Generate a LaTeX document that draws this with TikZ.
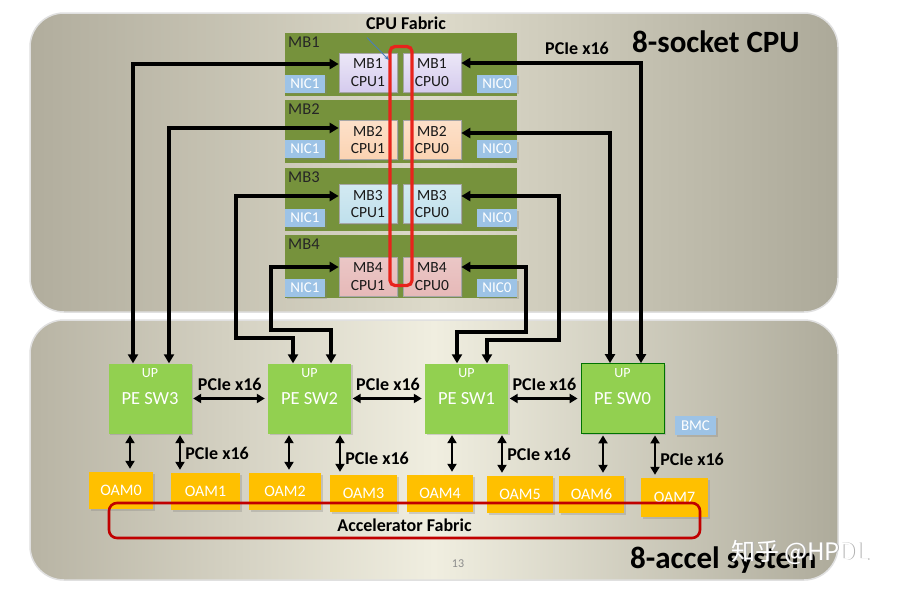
\documentclass[tikz,border=0pt]{standalone}
\usepackage{fontspec}
\setmainfont{Carlito}
\newfontfamily\cjkfont{Noto Sans CJK SC}
\usetikzlibrary{arrows.meta,shadows}
\definecolor{boardgreen}{HTML}{76923C}
\definecolor{nicblue}{HTML}{9DC3E6}
\definecolor{swgreen}{HTML}{92D050}
\definecolor{oamgold}{HTML}{FFC000}
\definecolor{fabred}{HTML}{E8231C}
\definecolor{accred}{HTML}{C00000}
\definecolor{pointblue}{HTML}{4A7EBB}
\definecolor{panelL}{HTML}{B1AD9D}
\definecolor{panelM}{HTML}{DDDACA}
\definecolor{panelR}{HTML}{ACA999}
\definecolor{panelBL}{HTML}{B8B4A4}
\definecolor{panelBM}{HTML}{F0EEE0}
\definecolor{panelBR}{HTML}{AEAB9B}
\definecolor{cpuA}{HTML}{D5CBEE}
\definecolor{cpuB}{HTML}{FBD3B2}
\definecolor{cpuC}{HTML}{BFE0EC}
\definecolor{cpuD}{HTML}{E6B9B8}
\begin{document}
\begin{tikzpicture}[x=1pt,y=-1pt,>={Triangle[length=9pt,width=10pt]},
  panel/.style={draw=black!12,line width=1.5pt,rounded corners=34pt},
  shad/.style={drop shadow={shadow xshift=1.5pt,shadow yshift=-1.5pt,opacity=.3}},
  board/.style={fill=boardgreen,anchor=north west,minimum width=232pt,minimum height=63pt,inner sep=0pt},
  mblab/.style={anchor=north west,inner sep=0pt,text=black!85,font=\fontsize{16.5}{16.5}\selectfont},
  cpu/.style={draw=black!35,line width=.6pt,minimum width=58pt,minimum height=39pt,inner sep=0pt,align=center,text=black!90,font=\fontsize{15.5}{17.5}\selectfont,shad},
  nic/.style={fill=nicblue,text=white,minimum width=40pt,minimum height=18pt,inner sep=0pt,font=\fontsize{15}{15}\selectfont,shad},
  sw/.style={fill=swgreen,text=white,minimum width=83pt,minimum height=70pt,inner sep=0pt,font=\fontsize{18.5}{18.5}\selectfont,shad,
    label={[anchor=north,inner sep=0pt,yshift=-5pt,text=white,font=\fontsize{14}{14}\selectfont]north:UP}},
  oam/.style={fill=oamgold,text=white,minimum height=37pt,inner sep=0pt,font=\fontsize{16}{16}\selectfont,shad},
  wire/.style={<->,line width=3.2pt},
  dbl/.style={<->,line width=2.6pt,>={Triangle[length=8pt,width=9pt]},shorten <=1.5pt,shorten >=3pt},
  lab/.style={inner sep=1pt,font=\bfseries\fontsize{18}{18}\selectfont},
  title/.style={inner sep=0pt,font=\bfseries\fontsize{31}{31}\selectfont}]
  \useasboundingbox[fill=white] (0,0) rectangle (914,592);
  \draw[panel,left color=panelL,right color=panelR,middle color=panelM] (30,13) rectangle (838,312);
  \draw[panel,left color=panelBL,right color=panelBR,middle color=panelBM] (30,320) rectangle (838,580);
  \node[board] (mb1) at (285,33) {}; \node[board] (mb2) at (285,100) {}; \node[board] (mb3) at (285,168) {}; \node[board] (mb4) at (285,235) {};
  \node[mblab] at ([xshift=3pt,yshift=-4pt]mb1.north west) {MB1}; \node[mblab] at ([xshift=3pt,yshift=-4pt]mb2.north west) {MB2}; \node[mblab] at ([xshift=3pt,yshift=-4pt]mb3.north west) {MB3}; \node[mblab] at ([xshift=3pt,yshift=-4pt]mb4.north west) {MB4};
  \node[cpu,top color=cpuA!45,bottom color=cpuA] (mb1c1) at (368,72.5) {MB1\\CPU1}; \node[cpu,top color=cpuA!45,bottom color=cpuA] (mb1c0) at (432,72.5) {MB1\\CPU0};
  \node[cpu,top color=cpuB!70,bottom color=cpuB] (mb2c1) at (368,140) {MB2\\CPU1}; \node[cpu,top color=cpuB!70,bottom color=cpuB] (mb2c0) at (432,140) {MB2\\CPU0};
  \node[cpu,top color=cpuC!70,bottom color=cpuC] (mb3c1) at (368,204) {MB3\\CPU1}; \node[cpu,top color=cpuC!70,bottom color=cpuC] (mb3c0) at (432,204) {MB3\\CPU0};
  \node[cpu,top color=cpuD!80,bottom color=cpuD] (mb4c1) at (368,276.5) {MB4\\CPU1}; \node[cpu,top color=cpuD!80,bottom color=cpuD] (mb4c0) at (432,276.5) {MB4\\CPU0};
  \node[nic] (mb1n1) at (305,83.5) {NIC1}; \node[nic] (mb1n0) at (497,83.5) {NIC0}; \node[nic] (mb2n1) at (305,149) {NIC1}; \node[nic] (mb2n0) at (497,149) {NIC0};
  \node[nic] (mb3n1) at (305,218) {NIC1}; \node[nic] (mb3n0) at (497,218) {NIC0}; \node[nic] (mb4n1) at (305,288) {NIC1}; \node[nic] (mb4n0) at (497,288) {NIC0};
  \node[draw=fabred,line width=3.2pt,rounded corners=5pt,minimum width=22pt,minimum height=239pt,inner sep=0pt] (cpufab) at (401,166) {};
  \node[lab] (cpufablab) at (406,23) {CPU Fabric}; \coordinate (fabtip) at (389,60);
  \draw[pointblue,line width=.9pt,-{Stealth[length=5pt,width=4pt]}] ([xshift=2pt,yshift=-7pt]cpufablab.south west) -- (fabtip);
  \node[sw] (sw3) at (150,398.5) {PE SW3}; \node[sw] (sw2) at (309.5,398.5) {PE SW2}; \node[sw] (sw1) at (466.5,398.5) {PE SW1}; \node[sw,draw=green!45!black,line width=.8pt] (sw0) at (622.5,398.5) {PE SW0};
  \node[nic,minimum width=41pt,minimum height=19pt] (bmc) at (695.5,425.5) {BMC};
  \node[oam,minimum width=64pt] (oam0) at (121,490.5) {OAM0}; \node[oam,minimum width=69pt] (oam1) at (205.5,491.5) {OAM1}; \node[oam,minimum width=72pt] (oam2) at (285,491.5) {OAM2}; \node[oam,minimum width=67pt] (oam3) at (363.5,493.5) {OAM3};
  \node[oam,minimum width=66pt] (oam4) at (440,493.5) {OAM4}; \node[oam,minimum width=66pt] (oam5) at (520,494.5) {OAM5}; \node[oam,minimum width=65pt] (oam6) at (591.5,494.5) {OAM6}; \node[oam,minimum width=67pt,minimum height=39pt] (oam7) at (674.5,497.5) {OAM7};
  \node[draw=accred,line width=2.6pt,rounded corners=8pt,minimum width=591pt,minimum height=35pt,inner sep=0pt] (accfab) at (404.5,520.5) {};
  \node[lab] at ([yshift=-5pt]accfab.center) {Accelerator Fabric};
  \draw[wire] ([xshift=-17pt]sw3.north) |- ([yshift=8.5pt]mb1c1.west); \draw[wire] ([xshift=19pt]sw3.north) |- ([yshift=12pt]mb2c1.west);
  \draw[wire] ([xshift=-16.5pt]sw2.north) |- (236,338) |- ([yshift=8pt]mb3c1.west); \draw[wire] ([xshift=21.5pt]sw2.north) |- (271,330) |- ([yshift=9.5pt]mb4c1.west);
  \draw[wire] ([xshift=18.5pt]sw0.north) |- ([yshift=9.5pt]mb1c0.east); \draw[wire] ([xshift=-12.5pt]sw0.north) |- ([yshift=7pt]mb2c0.east);
  \draw[wire] ([xshift=20.5pt]sw1.north) |- (559,340) |- ([yshift=8pt]mb3c0.east); \draw[wire] ([xshift=-9.5pt]sw1.north) |- (526,332) |- ([yshift=9.5pt]mb4c0.east);
  \node[lab] at (577,48) {PCIe x16};
  \draw[dbl] (sw3.east) -- node[lab,above=6pt] {PCIe x16} (sw2.west); \draw[dbl] (sw2.east) -- node[lab,above=6pt] {PCIe x16} (sw1.west); \draw[dbl] (sw1.east) -- node[lab,above=6pt] {PCIe x16} (sw0.west);
  \draw[dbl] ([xshift=-20pt]sw3.south) -- ([xshift=-20pt]sw3.south |- oam0.north); \draw[dbl] ([xshift=30pt]sw3.south) -- node[lab,right=3pt] {PCIe x16} ([xshift=30pt]sw3.south |- oam1.north);
  \draw[dbl] ([xshift=-20.5pt]sw2.south) -- ([xshift=-20.5pt]sw2.south |- oam2.north); \draw[dbl] ([xshift=30.5pt]sw2.south) -- node[lab,right=3pt,yshift=-4pt] {PCIe x16} ([xshift=30.5pt]sw2.south |- oam3.north);
  \draw[dbl] ([xshift=-14.5pt]sw1.south) -- ([xshift=-14.5pt]sw1.south |- oam4.north); \draw[dbl] ([xshift=35.5pt]sw1.south) -- node[lab,right=3pt] {PCIe x16} ([xshift=35.5pt]sw1.south |- oam5.north);
  \draw[dbl] ([xshift=-19.5pt]sw0.south) -- ([xshift=-19.5pt]sw0.south |- oam6.north); \draw[dbl] ([xshift=32.5pt]sw0.south) -- node[lab,right=3pt,yshift=-4pt] {PCIe x16} ([xshift=32.5pt]sw0.south |- oam7.north);
  \node[title] at (716,42) {8-socket CPU}; \node[title,anchor=west] at (630,560) {8-accel system};
  \node[text=black!45,font=\fontsize{12}{12}\selectfont] at (458,564) {13};
  \node[text=black!30,anchor=west,inner sep=0pt,font=\cjkfont\fontsize{24}{24}\selectfont] at (731.8,552.8) {知乎 @HPDL};
  \node[text=white,anchor=west,inner sep=0pt,font=\cjkfont\fontsize{24}{24}\selectfont] at (731,552) {知乎 @HPDL};
\end{tikzpicture}
\end{document}
